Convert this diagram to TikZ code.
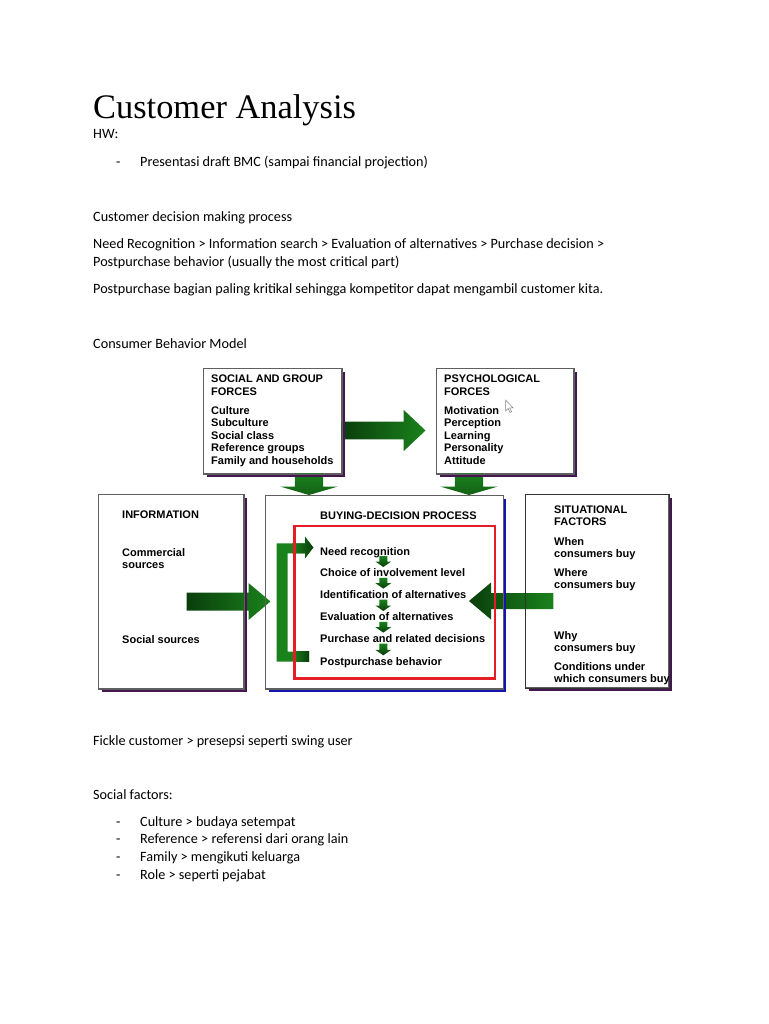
\documentclass[tikz,border=0pt]{standalone}
\usepackage{fontspec}
\setmainfont{Carlito}
\newfontfamily\titlefont{Liberation Serif}
\newfontfamily\diagfont{Liberation Sans}
\usetikzlibrary{calc}

\definecolor{arrowdark}{RGB}{10,62,12}
\definecolor{arrowgreen}{RGB}{26,130,28}
\definecolor{boxline}{RGB}{95,95,95}
\definecolor{purpleshadow}{RGB}{70,22,80}
\definecolor{blueshadow}{RGB}{20,20,175}
\definecolor{framered}{RGB}{228,30,36}

\tikzset{
  body/.style={anchor=base west, inner sep=0pt, font=\fontsize{14.2}{17}\selectfont},
  diag/.style={anchor=base west, inner sep=0pt, font=\diagfont\bfseries\fontsize{11}{12.5}\selectfont},
  item/.style={diag, text height=9.5pt, text depth=1pt},
  box/.style={draw=boxline, line width=0.8pt, anchor=north west, inner sep=0pt},
  sidearrow/.style={left color=arrowdark, right color=arrowgreen},
  downarrow/.style={top color=arrowgreen, bottom color=arrowgreen!75!black},
  smallarrow/.style={top color=arrowgreen, bottom color=arrowdark},
}

% block arrow: style, from, tip, shaft half width, head half width, head length
\newcommand\fatarrow[6]{%
  \coordinate (fa-h) at ($(#3)!#6pt!(#2)$);
  \shade[#1] ($(#2)!#4pt!90:(#3)$) -- ($(fa-h)!#4pt!-90:(#2)$) -- ($(fa-h)!#5pt!-90:(#2)$) -- (#3)
    -- ($(fa-h)!#5pt!90:(#2)$) -- ($(fa-h)!#4pt!90:(#2)$) -- ($(#2)!#4pt!-90:(#3)$) -- cycle;}

% shadow on the right and bottom of a box
\newcommand\boxshadow[2]{%
  \draw[#2, line width=2.6pt] ($(#1.north east)+(1.3,4)$) -- ($(#1.south east)+(1.3,1.3)$) -- ($(#1.south west)+(4,1.3)$);}

\begin{document}
\begin{tikzpicture}[x=1pt,y=-1pt]
\useasboundingbox (0,0) rectangle (768,1024);

% page text
\node[anchor=base west, inner sep=0pt, font=\titlefont\fontsize{34.4}{40}\selectfont] (title) at (93,118.5) {Customer Analysis};
\node[body] (hw) at (93,138.5) {HW:};
\node[body] (hwdash) at (116,166.5) {-};
\node[body] (hwitem) at (140,166.5) {Presentasi draft BMC (sampai financial projection)};
\node[body] (cdm) at (93,221.5) {Customer decision making process};
\node[body] (steps1) at (93,248) {Need Recognition > Information search > Evaluation of alternatives > Purchase decision >};
\node[body] (steps2) at (93,266) {Postpurchase behavior (usually the most critical part)};
\node[body] (crit) at (93,293.5) {Postpurchase bagian paling kritikal sehingga kompetitor dapat mengambil customer kita.};
\node[body] (cbm) at (93,348) {Consumer Behavior Model};
\node[body] (fickle) at (93,745) {Fickle customer > presepsi seperti swing user};
\node[body] (socf) at (93,799) {Social factors:};
\foreach \t [count=\i] in {Culture > budaya setempat, Reference > referensi dari orang lain, Family > mengikuti keluarga, Role > seperti pejabat} {
  \node[body] (fdash\i) at (116,{826+17.8*(\i-1)}) {-};
  \node[body] (fitem\i) at (140,{826+17.8*(\i-1)}) {\t};
}

% boxes
\node[box, minimum width=138.4, minimum height=105] (social) at (203,368.3) {};
\node[box, minimum width=137.3, minimum height=105] (psych) at (436,368.3) {};
\node[box, minimum width=145, minimum height=194] (info) at (98.3,494.3) {};
\node[box, minimum width=237.5, minimum height=193.3] (buying) at (265,495) {};
\node[box, minimum width=143.3, minimum height=193.3] (situation) at (525,494) {};

% green arrows
\coordinate (socout) at (341.5,430.5);
\coordinate (psychin) at (425.5,430.5);
\fatarrow{sidearrow}{socout}{psychin}{8.8}{20.8}{22}
\coordinate (socdown) at (309,473.3);
\coordinate (buyin1) at (309,495);
\fatarrow{downarrow}{socdown}{buyin1}{14.2}{29}{8.5}
\coordinate (psychdown) at (469,473.3);
\coordinate (buyin2) at (469,495);
\fatarrow{downarrow}{psychdown}{buyin2}{14.2}{29}{8.5}
\coordinate (infoout) at (186.7,601.5);
\coordinate (infotip) at (270.5,601.5);
\fatarrow{sidearrow}{infoout}{infotip}{9}{18.5}{22}
\coordinate (sitout) at (553.3,601);
\coordinate (sittip) at (469,601);
\fatarrow{sidearrow}{sitout}{sittip}{8}{18.5}{22}

\boxshadow{social}{purpleshadow}
\boxshadow{psych}{purpleshadow}
\boxshadow{info}{purpleshadow}
\boxshadow{buying}{blueshadow}
\boxshadow{situation}{purpleshadow}
\draw[boxline, line width=0.8pt] (social.north west) rectangle (social.south east);
\draw[boxline, line width=0.8pt] (psych.north west) rectangle (psych.south east);
\draw[boxline, line width=0.8pt] (info.north west) rectangle (info.south east);
\draw[boxline, line width=0.8pt] (buying.north west) rectangle (buying.south east);
\draw[black!80, line width=0.8pt] (situation.north west) rectangle (situation.south east);

% box texts
\node[diag] (soct1) at (211,382.7) {SOCIAL AND GROUP};
\node[diag] (soct2) at (211,395) {FORCES};
\foreach \t [count=\i] in {Culture, Subculture, Social class, Reference groups, Family and households}
  \node[diag, name=soc\i] at (211,{414+12.5*(\i-1)}) {\t};
\node[diag] (psyt1) at (444,382.7) {PSYCHOLOGICAL};
\node[diag] (psyt2) at (444,395) {FORCES};
\foreach \t [count=\i] in {Motivation, Perception, Learning, Personality, Attitude}
  \node[diag, name=psy\i] at (444,{414+12.5*(\i-1)}) {\t};
\node[diag] (infot) at (122,518.5) {INFORMATION};
\node[diag] (info1) at (122,556) {Commercial};
\node[diag] (info2) at (122,568.5) {sources};
\node[diag] (info3) at (122,643.5) {Social sources};
\node[diag] (buyt) at (320,519.5) {BUYING-DECISION PROCESS};
\foreach \y/\t [count=\i] in {513.3/SITUATIONAL, 525.7/FACTORS, 545/When, 557.5/consumers buy, 576/Where,
    588.5/consumers buy, 639.3/Why, 651.8/consumers buy, 670/Conditions under, 682.5/which consumers buy}
  \node[diag, name=sit\i] at (554,\y) {\t};

% buying-decision steps
\node[item] (need) at (320,555) {Need recognition};
\node[item] (choice) at (320,576.7) {Choice of involvement level};
\node[item] (ident) at (320,598.3) {Identification of alternatives};
\node[item] (eval) at (320,620.7) {Evaluation of alternatives};
\node[item] (purch) at (320,642.3) {Purchase and related decisions};
\node[item] (post) at (320,665) {Postpurchase behavior};
\coordinate (stepaxis) at (383.3,0);
\foreach \a/\b in {need/choice, choice/ident, ident/eval, eval/purch, purch/post} {
  \coordinate (sa) at (stepaxis |- \a.south);
  \coordinate (sb) at (stepaxis |- \b.north);
  \fatarrow{smallarrow}{sa}{sb}{4}{8}{5.5}
}

% feedback loop from postpurchase back to need recognition
\coordinate (loopend) at (309,661.7);
\fill[arrowgreen] (loopend) -- ++(-32.3,0) -- ++(0,-118.4) -- ++(28.3,0) -- ++(0,-6.6) -- ++(8.3,10.8)
  -- ++(-8.3,10.8) -- ++(0,-5) -- ++(-17.3,0) -- ++(0,98.4) -- ++(21.3,0) -- cycle;
\shade[left color=arrowgreen, right color=arrowdark] (292,543.3) -- (305,543.3) -- (305,536.7) -- (313.3,547.5)
  -- (305,558.3) -- (305,553.3) -- (292,553.3) -- cycle;
\shade[left color=arrowgreen, right color=arrowdark] (293,651.7) rectangle (loopend);

% red frame
\draw[framered, line width=2.4pt] (294.3,525.7) rectangle (495,678.3);

% mouse pointer
\filldraw[fill=white, draw=gray, line width=0.5pt] (505.5,400) -- ++(0,11) -- ++(2.6,-2.5) -- ++(2,4) -- ++(1.6,-0.8)
  -- ++(-2,-3.8) -- ++(3.5,0) -- cycle;
\end{tikzpicture}
\end{document}
